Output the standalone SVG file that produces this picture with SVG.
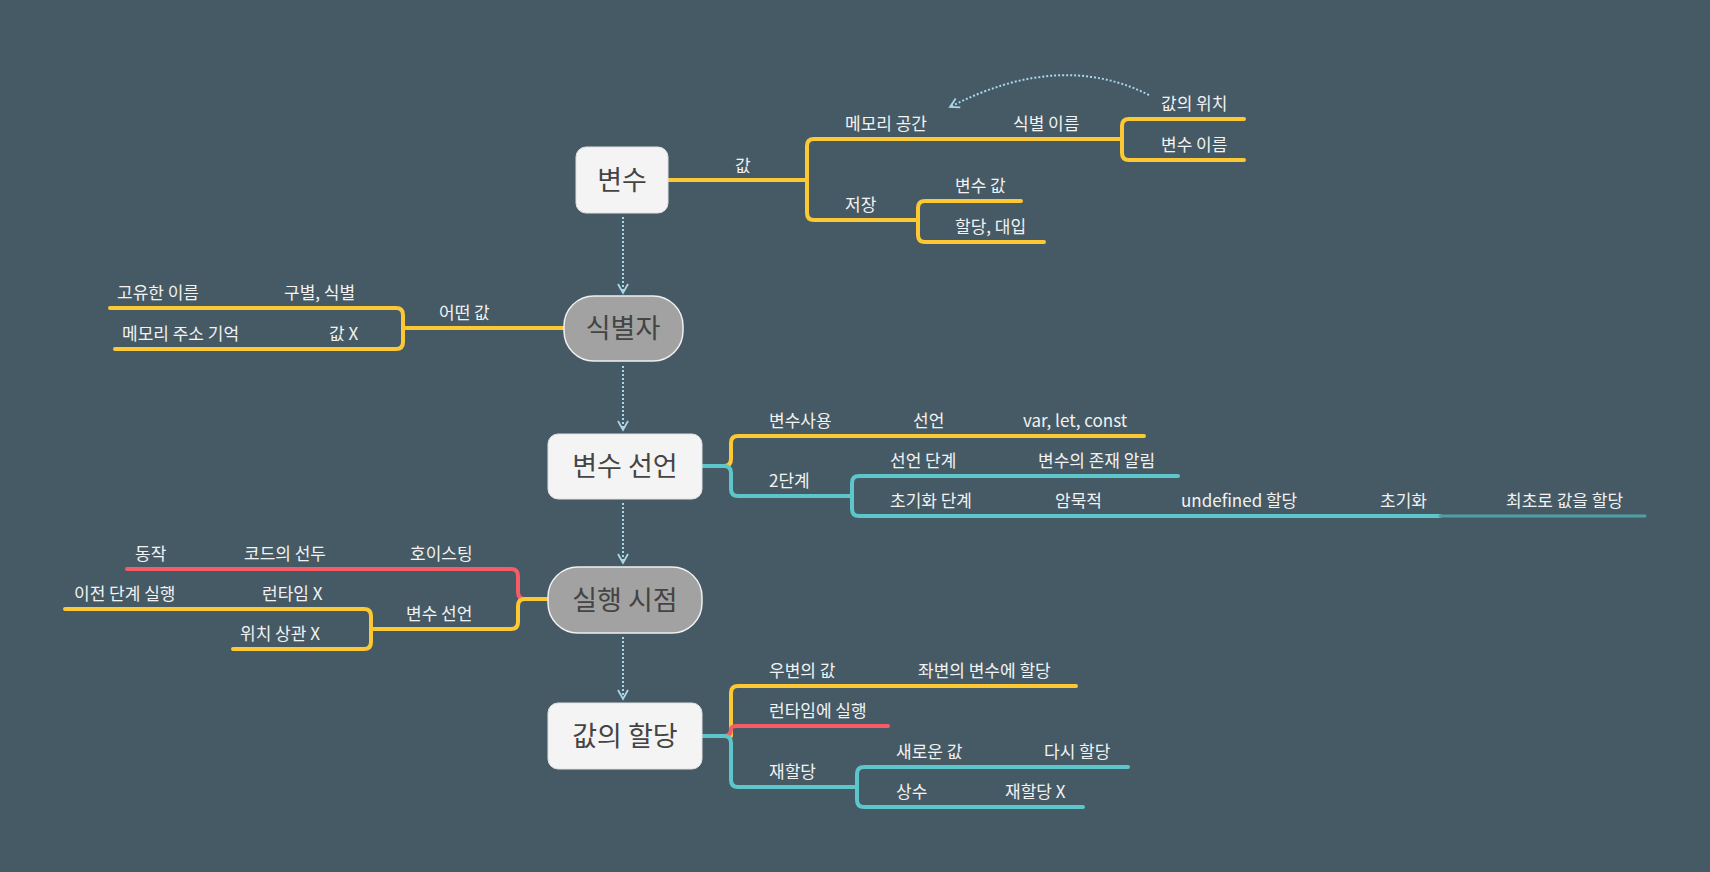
<svg xmlns="http://www.w3.org/2000/svg" width="1710" height="872" viewBox="0 0 1710 872">
<defs>
<style>
.bg{fill:#465a65}
.y{stroke:#fcc935;stroke-width:4;fill:none;stroke-linecap:round}
.t{stroke:#5cc6cb;stroke-width:4;fill:none;stroke-linecap:round}
.td{stroke:#4f9fa5;stroke-width:3;fill:none;stroke-linecap:round}
.r{stroke:#f65c66;stroke-width:4;fill:none;stroke-linecap:round}
.d{stroke:#a9d6e8;stroke-width:2;fill:none;stroke-dasharray:2 2}
.lb{font-family:"Noto Sans CJK KR","Noto Sans",sans-serif;font-size:17px;fill:#f2f2f2}
.nt{font-family:"Noto Sans CJK KR","Noto Sans",sans-serif;font-size:27px;fill:#444;text-anchor:middle}
.wn{fill:#f4f4f4;stroke:#e0e0e0;stroke-width:1}
.gn{fill:#a2a2a2;stroke:#f0f0f0;stroke-width:1.5}
</style>
<marker id="ar" viewBox="0 0 12 12" refX="10" refY="6" markerWidth="12" markerHeight="12" markerUnits="userSpaceOnUse" orient="auto">
<path d="M1,1 L10,6 L1,11" fill="none" stroke="#a9d6e8" stroke-width="1.8"/>
</marker>
</defs>
<rect class="bg" width="1710" height="872"/>
<g id="connectors">
<!-- 변수 -->
<path class="y" d="M668,180 H807 M807,180 V146 Q807,139 814,139 H1122 M807,180 V213 Q807,220 814,220 H918"/>
<path class="y" d="M1122,139 V126 Q1122,119 1129,119 H1244 M1122,139 V153 Q1122,160 1129,160 H1244"/>
<path class="y" d="M918,220 V208 Q918,201 925,201 H1021 M918,220 V235 Q918,242 925,242 H1044"/>
<path class="d" d="M1149,95 Q1060,50 950,107" marker-end="url(#ar)"/>
<!-- 식별자 -->
<path class="y" d="M564,328 H403 M403,328 V315 Q403,308 396,308 H110 M403,328 V342 Q403,349 396,349 H115"/>
<!-- 변수 선언 -->
<path class="y" d="M702,466 H724 Q731,466 731,459 V443 Q731,436 738,436 H1144"/>
<path class="t" d="M702,466 H724 Q731,466 731,473 V489 Q731,496 738,496 H852"/>
<path class="t" d="M852,496 V483 Q852,476 859,476 H1178 M852,496 V509 Q852,516 859,516 H1440"/>
<path class="td" d="M1440,516 H1645"/>
<!-- 실행 시점 -->
<path class="r" d="M548,599 H525 Q518,599 518,592 V576 Q518,569 511,569 H127"/>
<path class="y" d="M548,599 H525 Q518,599 518,606 V622 Q518,629 511,629 H371"/>
<path class="y" d="M371,629 V616 Q371,609 364,609 H65 M371,629 V642 Q371,649 364,649 H233"/>
<!-- 값의 할당 -->
<path class="y" d="M731,736 V693 Q731,686 738,686 H1076"/>
<path class="r" d="M702,736 H724 Q731,736 731,729 Q731,726 738,726 H888"/>
<path class="t" d="M702,736 H724 Q731,736 731,743 V780 Q731,787 738,787 H857"/>
<path class="t" d="M857,787 V774 Q857,767 864,767 H1128 M857,787 V800 Q857,807 864,807 H1083"/>
<!-- flow -->
<path class="d" d="M623,217 V293" marker-end="url(#ar)"/>
<path class="d" d="M623,366 V430" marker-end="url(#ar)"/>
<path class="d" d="M623,503 V563" marker-end="url(#ar)"/>
<path class="d" d="M623,637 V699" marker-end="url(#ar)"/>
</g>
<g id="n1"><rect class="wn" x="576" y="147" width="92" height="66" rx="10"/><text class="nt" x="622" y="190">변수</text></g>
<g id="n2"><rect class="gn" x="564" y="296" width="119" height="65" rx="30"/><text class="nt" x="623" y="338">식별자</text></g>
<g id="n3"><rect class="wn" x="548" y="434" width="154" height="65" rx="10"/><text class="nt" x="625" y="476">변수 선언</text></g>
<g id="n4"><rect class="gn" x="548" y="567" width="154" height="66" rx="30"/><text class="nt" x="625" y="610">실행 시점</text></g>
<g id="n5"><rect class="wn" x="548" y="703" width="154" height="66" rx="10"/><text class="nt" x="625" y="746">값의 할당</text></g>
<g id="labels">
<text class="lb" x="735" y="172">값</text>
<text class="lb" x="845" y="130">메모리 공간</text>
<text class="lb" x="1013" y="130">식별 이름</text>
<text class="lb" x="1161" y="110">값의 위치</text>
<text class="lb" x="1161" y="151">변수 이름</text>
<text class="lb" x="845" y="211">저장</text>
<text class="lb" x="955" y="192">변수 값</text>
<text class="lb" x="955" y="233">할당, 대입</text>
<text class="lb" x="117" y="299">고유한 이름</text>
<text class="lb" x="284" y="299">구별, 식별</text>
<text class="lb" x="439" y="319">어떤 값</text>
<text class="lb" x="122" y="340">메모리 주소 기억</text>
<text class="lb" x="329" y="340">값 X</text>
<text class="lb" x="769" y="427">변수사용</text>
<text class="lb" x="913" y="427">선언</text>
<text class="lb" x="1023" y="427">var, let, const</text>
<text class="lb" x="769" y="487">2단계</text>
<text class="lb" x="890" y="467">선언 단계</text>
<text class="lb" x="1038" y="467">변수의 존재 알림</text>
<text class="lb" x="890" y="507">초기화 단계</text>
<text class="lb" x="1055" y="507">암묵적</text>
<text class="lb" x="1181" y="507">undefined 할당</text>
<text class="lb" x="1380" y="507">초기화</text>
<text class="lb" x="1506" y="507">최초로 값을 할당</text>
<text class="lb" x="135" y="560">동작</text>
<text class="lb" x="244" y="560">코드의 선두</text>
<text class="lb" x="410" y="560">호이스팅</text>
<text class="lb" x="74" y="600">이전 단계 실행</text>
<text class="lb" x="262" y="600">런타임 X</text>
<text class="lb" x="406" y="620">변수 선언</text>
<text class="lb" x="240" y="640">위치 상관 X</text>
<text class="lb" x="769" y="677">우변의 값</text>
<text class="lb" x="918" y="677">좌변의 변수에 할당</text>
<text class="lb" x="769" y="717">런타임에 실행</text>
<text class="lb" x="769" y="778">재할당</text>
<text class="lb" x="896" y="758">새로운 값</text>
<text class="lb" x="1044" y="758">다시 할당</text>
<text class="lb" x="896" y="798">상수</text>
<text class="lb" x="1005" y="798">재할당 X</text>
</g>
</svg>
